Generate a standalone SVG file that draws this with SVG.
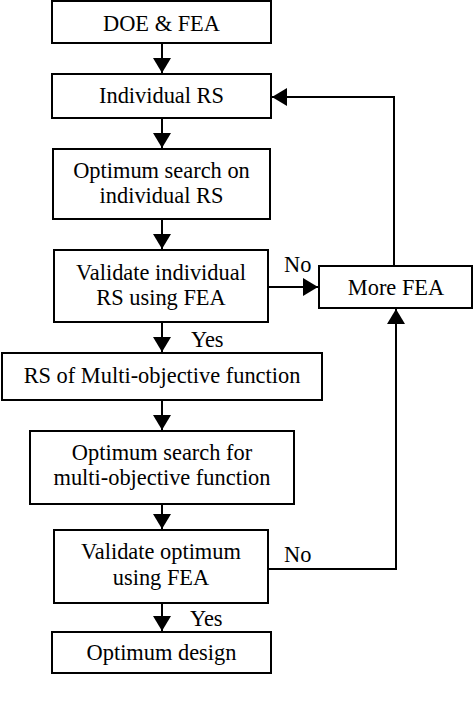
<svg xmlns="http://www.w3.org/2000/svg" width="474" height="705" viewBox="0 0 474 705">
<style>
.box{fill:#fff;stroke:#000;stroke-width:2}
.c{fill:none;stroke:#000;stroke-width:2}
</style>
<defs>
<marker id="ah" markerWidth="16" markerHeight="18" refX="15" refY="9" orient="auto" markerUnits="userSpaceOnUse">
<path d="M0,0 L15,9 L0,18 Z" fill="#000"/>
</marker>
</defs>
<rect width="474" height="705" fill="#fff"/>
<g id="connectors">
<line class="c" x1="162" y1="43" x2="162" y2="73" marker-end="url(#ah)"/>
<line class="c" x1="162" y1="118" x2="162" y2="148" marker-end="url(#ah)"/>
<line class="c" x1="162" y1="219" x2="162" y2="249" marker-end="url(#ah)"/>
<line class="c" x1="268" y1="287" x2="318" y2="287" marker-end="url(#ah)"/>
<polyline class="c" points="394,266 394,97 272,97" marker-end="url(#ah)"/>
<line class="c" x1="162" y1="322" x2="162" y2="352" marker-end="url(#ah)"/>
<line class="c" x1="162" y1="400" x2="162" y2="430" marker-end="url(#ah)"/>
<line class="c" x1="162" y1="504" x2="162" y2="529" marker-end="url(#ah)"/>
<polyline class="c" points="268,569 396,569 396,309" marker-end="url(#ah)"/>
<line class="c" x1="162" y1="603" x2="162" y2="631" marker-end="url(#ah)"/>
<text x="284" y="272" font-family="Liberation Serif" font-size="22.4">No</text>
<text x="191" y="347" font-family="Liberation Serif" font-size="22.4">Yes</text>
<text x="284" y="562" font-family="Liberation Serif" font-size="22.4">No</text>
<text x="190" y="626" font-family="Liberation Serif" font-size="22.4">Yes</text>
</g>
<g id="doe">
<rect class="box" x="52" y="1" width="219" height="42"/>
<text x="161.5" y="31" font-family="Liberation Serif" font-size="22.4" text-anchor="middle">DOE &amp; FEA</text>
</g>
<g id="individual-rs">
<rect class="box" x="52" y="74" width="219" height="44"/>
<text x="161.5" y="103" font-family="Liberation Serif" font-size="22.4" text-anchor="middle">Individual RS</text>
</g>
<g id="opt-individual">
<rect class="box" x="53" y="149" width="217" height="70"/>
<text x="161.5" y="178" font-family="Liberation Serif" font-size="22.4" text-anchor="middle">Optimum search on</text>
<text x="161.5" y="203" font-family="Liberation Serif" font-size="22.4" text-anchor="middle">individual RS</text>
</g>
<g id="validate-individual">
<rect class="box" x="54" y="250" width="214" height="72"/>
<text x="161" y="280" font-family="Liberation Serif" font-size="22.4" text-anchor="middle">Validate individual</text>
<text x="161" y="305" font-family="Liberation Serif" font-size="22.4" text-anchor="middle">RS using FEA</text>
</g>
<g id="more-fea">
<rect class="box" x="319" y="266" width="153" height="42"/>
<text x="396" y="295" font-family="Liberation Serif" font-size="22.4" text-anchor="middle">More FEA</text>
</g>
<g id="rs-multi">
<rect class="box" x="2" y="353" width="320" height="47"/>
<text x="162" y="383" font-family="Liberation Serif" font-size="22.4" text-anchor="middle">RS of Multi-objective function</text>
</g>
<g id="opt-multi">
<rect class="box" x="30" y="431" width="264" height="73"/>
<text x="162" y="460" font-family="Liberation Serif" font-size="22.4" text-anchor="middle">Optimum search for</text>
<text x="162" y="485" font-family="Liberation Serif" font-size="22.4" text-anchor="middle">multi-objective function</text>
</g>
<g id="validate-optimum">
<rect class="box" x="54" y="530" width="214" height="73"/>
<text x="161" y="559" font-family="Liberation Serif" font-size="22.4" text-anchor="middle">Validate optimum</text>
<text x="161" y="585" font-family="Liberation Serif" font-size="22.4" text-anchor="middle">using FEA</text>
</g>
<g id="optimum-design">
<rect class="box" x="52" y="632" width="219" height="41"/>
<text x="161.5" y="660" font-family="Liberation Serif" font-size="22.4" text-anchor="middle">Optimum design</text>
</g>
</svg>
